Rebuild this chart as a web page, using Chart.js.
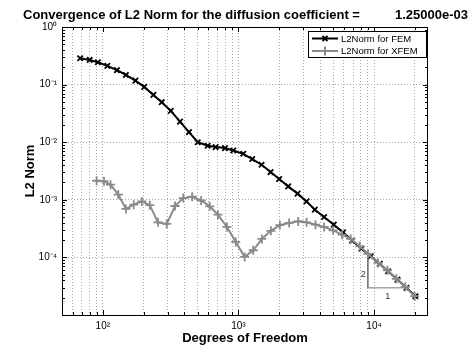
<!DOCTYPE html>
<html>
<head>
<meta charset="utf-8">
<script src="https://cdn.jsdelivr.net/npm/chart.js@4.4.1/dist/chart.umd.min.js"></script>
<style>
  html, body { margin: 0; padding: 0; background: #fff; }
</style>
</head>
<body>
<canvas id="chart" width="474" height="354"></canvas>
<script>
// values
const femDof = [68, 80, 92, 108, 127, 148, 174, 202, 236, 272, 317, 371, 432, 501, 593, 679, 796, 916, 1085, 1264,
    1482, 1726, 1997, 2327, 2729, 3179, 3659, 4284, 5049, 5911, 6887, 8078, 9456, 11015, 12682, 14870, 17323, 20177];
const femL2 = [0.287, 0.268, 0.244, 0.211, 0.178, 0.147, 0.117, 0.0912, 0.0663, 0.0495, 0.035, 0.0228, 0.015, 0.0100,
    0.00866, 0.00822, 0.0079, 0.00718, 0.00629, 0.0051, 0.00406, 0.00303, 0.00229, 0.00171, 0.00128, 0.000938,
    0.000674, 0.000503, 0.00037, 0.000272, 0.000196, 0.000142, 0.000105, 7.72e-5, 5.74e-5, 4.12e-5, 2.96e-5, 2.12e-5];

const xfemDof = [90, 102, 114, 130, 148, 169, 194, 222, 255, 296, 341, 392, 456, 531, 614, 706, 823, 955, 1111, 1285,
    1489, 1735, 2021, 2366, 2757, 3179, 3703, 4284, 4991, 5813, 6736, 7847, 9033, 10702, 12550, 14620, 17030, 19937];
const xfemL2 = [0.00214, 0.0021, 0.00183, 0.00123, 0.000693, 0.000823, 0.000938, 0.000806, 0.000406, 0.000381,
    0.000781, 0.00107, 0.00113, 0.000973, 0.000769, 0.000552, 0.000338, 0.000186, 0.000102, 0.000133,
    0.000209, 0.000289, 0.000363, 0.000396, 0.000422, 0.000406, 0.00037, 0.000338, 0.000295, 0.000248,
    0.000209, 0.000156, 0.000115, 8.03e-5, 5.98e-5, 4.24e-5, 3.08e-5, 2.12e-5];

// slope triangle (rate 2)
const triDof = [9000, 9000, 17700];
const triL2 = [1.07e-4, 2.96e-5, 2.96e-5];
const triLabels = ['2', '1'];

const titleText = 'Convergence of L2 Norm for the diffusion coefficient =';
const titleValue = '1.25000e-03';
const seriesNames = ['L2Norm for FEM', 'L2Norm for XFEM'];

const xTicks = [50, 60, 70, 80, 90, 100, 200, 300, 400, 500, 600, 700, 800, 900,
    1000, 2000, 3000, 4000, 5000, 6000, 7000, 8000, 9000, 10000, 20000];
const xMajor = [100, 1000, 10000];
const xMajorLabels = ['10²', '10³', '10⁴'];
const yMajor = [1, 0.1, 0.01, 0.001, 0.0001, 0.00001];
const yMajorLabels = ['10⁰', '10⁻¹', '10⁻²', '10⁻³', '10⁻⁴', ''];
const yMinorSteps = [2, 3, 4, 5, 6, 7, 8, 9];

const FONT = '"Liberation Sans", Arial, Helvetica, sans-serif';
const GRAY = '#8a8a8a';

const yTicks = [];
yMajor.forEach(d => {
    yTicks.push(d);
    if (d < 1) yMinorSteps.forEach(s => yTicks.push(+(d * s).toPrecision(3)));
});

function pts(xs, ys) {
    return xs.map((v, i) => ({ x: v, y: ys[i] }));
}

const decor = {
    id: 'decor',
    afterDatasetsDraw(chart) {
        const { ctx, chartArea: a, scales: { x, y } } = chart;
        ctx.save();

        // slope triangle labels
        ctx.fillStyle = '#333';
        ctx.font = '9px ' + FONT;
        ctx.textAlign = 'right';
        ctx.textBaseline = 'middle';
        ctx.fillText(triLabels[0], x.getPixelForValue(triDof[0]) - 2,
            (y.getPixelForValue(triL2[0]) + y.getPixelForValue(triL2[1])) / 2 + 3);
        ctx.textAlign = 'center';
        ctx.textBaseline = 'top';
        ctx.fillText(triLabels[1], (x.getPixelForValue(triDof[1]) + x.getPixelForValue(triDof[2])) / 2,
            y.getPixelForValue(triL2[2]) + 4);

        // inward tick marks on all four sides
        ctx.strokeStyle = '#000';
        ctx.lineWidth = 1;
        ctx.beginPath();
        xTicks.forEach(v => {
            const px = Math.round(x.getPixelForValue(v)) + 0.5;
            const len = xMajor.includes(v) ? 5 : 3;
            ctx.moveTo(px, a.bottom); ctx.lineTo(px, a.bottom - len);
            ctx.moveTo(px, a.top); ctx.lineTo(px, a.top + len);
        });
        yTicks.forEach(v => {
            const py = Math.round(y.getPixelForValue(v)) + 0.5;
            const len = yMajor.includes(v) ? 5 : 3;
            ctx.moveTo(a.left, py); ctx.lineTo(a.left + len, py);
            ctx.moveTo(a.right, py); ctx.lineTo(a.right - len, py);
        });
        ctx.stroke();

        // legend box
        const lx = a.right - 120, ly = a.top + 4, lw = 119, lh = 27;
        ctx.fillStyle = '#fff';
        ctx.fillRect(lx, ly, lw, lh);
        ctx.strokeRect(lx + 0.5, ly + 0.5, lw - 1, lh - 1);
        const rows = [
            { color: '#000', style: 'crossRot', r: 3.5, w: 1.8 },
            { color: GRAY, style: 'cross', r: 4.5, w: 1.8 }
        ];
        rows.forEach((row, i) => {
            const ry = ly + 7.5 + i * 12.5;
            ctx.strokeStyle = row.color;
            ctx.lineWidth = 2;
            ctx.beginPath();
            ctx.moveTo(lx + 4, ry); ctx.lineTo(lx + 30, ry);
            ctx.stroke();
            Chart.helpers.drawPoint(ctx, { pointStyle: row.style, radius: row.r, borderWidth: row.w, rotation: 0 }, lx + 17, ry);
            ctx.fillStyle = '#000';
            ctx.font = '9.5px ' + FONT;
            ctx.textAlign = 'left';
            ctx.textBaseline = 'middle';
            ctx.fillText(seriesNames[i], lx + 33, ry + 0.5);
        });

        // axes box
        ctx.strokeStyle = '#000';
        ctx.lineWidth = 1;
        ctx.strokeRect(Math.round(a.left) + 0.5, Math.round(a.top) + 0.5,
            Math.round(a.width) - 1, Math.round(a.height));
        ctx.restore();
    },
    afterDraw(chart) {
        const ctx = chart.ctx;
        ctx.save();
        ctx.fillStyle = '#000';
        ctx.font = 'bold 13px ' + FONT;
        ctx.textBaseline = 'alphabetic';
        ctx.textAlign = 'left';
        ctx.fillText(titleText, 23, 19);
        ctx.textAlign = 'right';
        ctx.fillText(titleValue, 468, 19);
        ctx.restore();
    }
};

new Chart(document.getElementById('chart'), {
    type: 'line',
    data: {
        datasets: [
            {
                label: seriesNames[0],
                data: pts(femDof, femL2),
                borderColor: '#000',
                backgroundColor: '#000',
                borderWidth: 2,
                pointStyle: 'crossRot',
                pointRadius: 3.8,
                pointBorderWidth: 1.8,
                pointBorderColor: '#000',
                tension: 0,
                order: 2
            },
            {
                label: seriesNames[1],
                data: pts(xfemDof, xfemL2),
                borderColor: GRAY,
                backgroundColor: GRAY,
                borderWidth: 2,
                pointStyle: 'cross',
                pointRadius: 4.5,
                pointBorderWidth: 1.8,
                pointBorderColor: GRAY,
                tension: 0,
                order: 1
            },
            {
                label: 'slope',
                data: pts(triDof, triL2),
                borderColor: '#777',
                borderWidth: 1,
                pointRadius: 0,
                tension: 0,
                order: 3
            }
        ]
    },
    options: {
        responsive: false,
        animation: false,
        devicePixelRatio: 1,
        layout: { padding: { top: 27, right: 46, left: 0, bottom: 0 } },
        plugins: {
            legend: { display: false },
            title: { display: false },
            tooltip: { enabled: false }
        },
        scales: {
            x: {
                type: 'logarithmic',
                min: 50,
                max: 25000,
                afterBuildTicks: axis => { axis.ticks = xTicks.map(v => ({ value: v })); },
                afterFit: axis => { axis.height = 39; },
                ticks: {
                    autoSkip: false,
                    maxRotation: 0,
                    padding: 5,
                    color: '#000',
                    font: { family: FONT, size: 10 },
                    callback: v => {
                        const i = xMajor.indexOf(v);
                        return i >= 0 ? xMajorLabels[i] : '';
                    }
                },
                grid: { color: '#a8a8a8', lineWidth: 1, drawTicks: false },
                border: { display: false, dash: [1, 2] },
                title: {
                    display: true,
                    text: 'Degrees of Freedom',
                    color: '#000',
                    font: { family: FONT, size: 13, weight: 'bold' },
                    padding: { top: 0, bottom: 8 }
                }
            },
            y: {
                type: 'logarithmic',
                min: 1e-5,
                max: 1,
                afterBuildTicks: axis => { axis.ticks = yTicks.map(v => ({ value: v })); },
                afterFit: axis => { axis.width = 62; },
                ticks: {
                    autoSkip: false,
                    padding: 5,
                    color: '#000',
                    font: { family: FONT, size: 10 },
                    callback: v => {
                        const i = yMajor.indexOf(v);
                        return i >= 0 ? yMajorLabels[i] : '';
                    }
                },
                grid: {
                    drawTicks: false,
                    lineWidth: 1,
                    color: c => (c.tick && yMajor.includes(c.tick.value)) ? '#a8a8a8' : 'rgba(0,0,0,0)'
                },
                border: { display: false, dash: [1, 2] },
                title: {
                    display: true,
                    text: 'L2 Norm',
                    color: '#000',
                    font: { family: FONT, size: 13, weight: 'bold' },
                    padding: { top: 23, bottom: 0 }
                }
            }
        }
    },
    plugins: [decor]
});
</script>
</body>
</html>
